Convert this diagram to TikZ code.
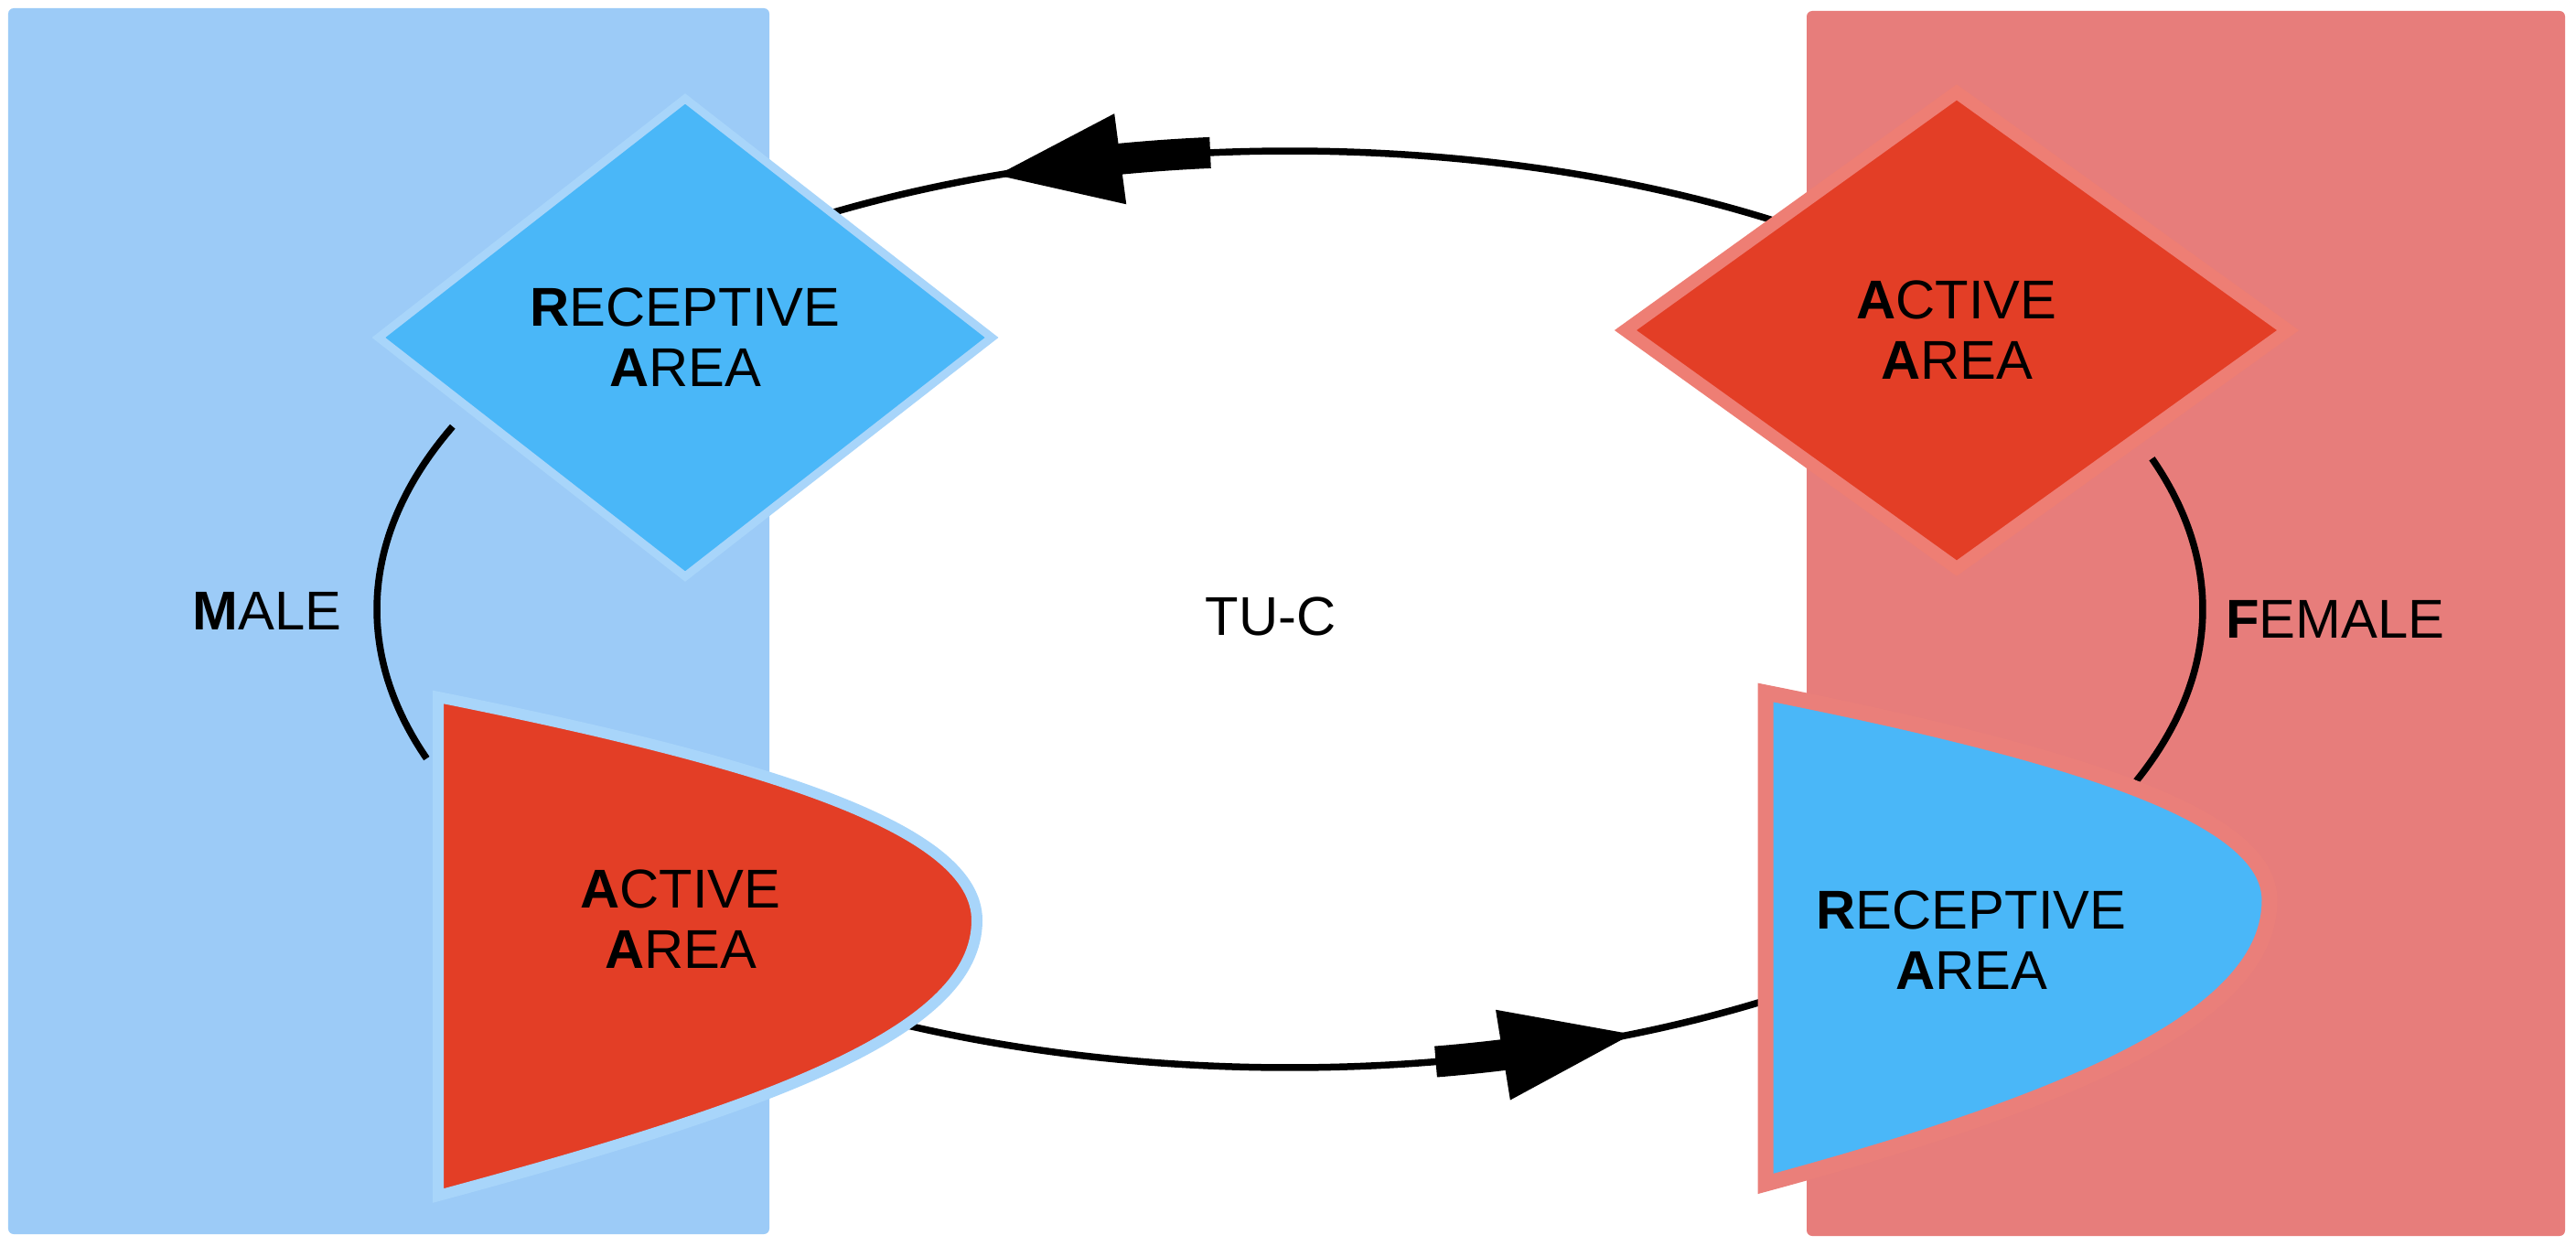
\documentclass[tikz,border=0pt]{standalone}
\usepackage{fontspec}
\setmainfont{Liberation Sans}
\usetikzlibrary{shapes.geometric,calc}
\definecolor{malebg}{HTML}{9CCBF7}
\definecolor{femalebg}{HTML}{E77D7B}
\definecolor{recblue}{HTML}{4AB7F8}
\definecolor{actred}{HTML}{E33E26}
\definecolor{bluerim}{HTML}{A8D5FA}
\definecolor{redrim}{HTML}{EE7E74}
\definecolor{salmonrim}{HTML}{EA7F7A}
\begin{document}
\begin{tikzpicture}[
  panel/.style={rectangle, draw=none, inner sep=0pt, rounded corners=0.06cm},
  lbl/.style={font=\fontsize{17}{18.8}\selectfont, text=black, align=center, inner sep=0pt},
  cyc/.style={line width=0.075cm, black},
  shaft/.style={line width=0.34cm, black},
  areabox/.style={diamond, inner sep=0pt, font=\fontsize{17}{18.8}\selectfont, text=black, align=center},
]
\useasboundingbox (0,0) rectangle (28.16,13.61);
\fill[white] (0,0) rectangle (28.16,13.61);

% panels
\node[panel, fill=malebg, minimum width=8.32cm, minimum height=13.40cm] (malepanel) at (4.25,6.82) {};
\node[panel, fill=femalebg, minimum width=8.29cm, minimum height=13.39cm] (femalepanel) at (23.895,6.795) {};

% cycle (one ellipse)
\coordinate (O) at (14.10,6.95);
\coordinate (topR) at ($(O)+(56:9.98cm and 5.01cm)$);
\coordinate (botL) at ($(O)+(243:9.98cm and 5.01cm)$);
\coordinate (maleT) at ($(O)+(156.5:9.98cm and 5.01cm)$);
\coordinate (femB) at ($(O)+(-22:9.98cm and 5.01cm)$);

\draw[cyc] (topR) arc[start angle=56, end angle=123, x radius=9.98, y radius=5.01];
\draw[cyc] (botL) arc[start angle=243, end angle=303, x radius=9.98, y radius=5.01];
\draw[cyc] (maleT) arc[start angle=156.5, end angle=199, x radius=9.98, y radius=5.01];
\draw[cyc] (femB) arc[start angle=-22, end angle=19.2, x radius=9.98, y radius=5.01];

% top arrow (pointing left)
\coordinate (tTip) at ($(O)+(108.7:9.98cm and 5.01cm)$);
\coordinate (tBack) at ($(O)+(100.7:9.98cm and 5.01cm)$);
\coordinate (tTail) at ($(O)+(95:9.98cm and 5.01cm)$);
\draw[shaft] (tTail) arc[start angle=95, end angle=101.5, x radius=9.98, y radius=5.01];
\fill[black] (tTip) -- ($(tBack)!0.5cm!90:(tTip)$) -- ($(tBack)!0.5cm!-90:(tTip)$) -- cycle;

% bottom arrow (pointing right)
\coordinate (bTip) at ($(O)+(292:9.98cm and 5.01cm)$);
\coordinate (bBack) at ($(O)+(283.5:9.98cm and 5.01cm)$);
\coordinate (bTail) at ($(O)+(279.2:9.98cm and 5.01cm)$);
\draw[shaft] (bTail) arc[start angle=279.2, end angle=284.3, x radius=9.98, y radius=5.01];
\fill[black] (bTip) -- ($(bBack)!0.5cm!90:(bTip)$) -- ($(bBack)!0.5cm!-90:(bTip)$) -- cycle;

% diamonds
\node[areabox, fill=recblue, draw=bluerim, line width=0.09cm,
      minimum width=6.74cm, minimum height=5.26cm] (maleRec) at (7.49,9.92)
      {\textbf{R}ECEPTIVE\\\textbf{A}REA};
\node[areabox, fill=actred, draw=redrim, line width=0.14cm,
      minimum width=7.30cm, minimum height=5.26cm] (femAct) at (21.39,10.00)
      {\textbf{A}CTIVE\\\textbf{A}REA};

% half-lens shapes
\coordinate (raTop) at (4.79,5.99);
\coordinate (raTip) at (10.68,3.55);
\coordinate (raBot) at (4.79,0.54);
\filldraw[fill=actred, draw=bluerim, line width=0.12cm]
  (raTop) .. controls (8.50,5.25) and (10.68,4.53) .. (raTip)
          .. controls (10.68,2.35) and (8.50,1.54) .. (raBot) -- cycle;
\node[lbl] (maleAct) at (7.44,3.565) {\textbf{A}CTIVE\\\textbf{A}REA};

\coordinate (rbTop) at (19.30,6.04);
\coordinate (rbTip) at (24.81,3.77);
\coordinate (rbBot) at (19.30,0.67);
\filldraw[fill=recblue, draw=salmonrim, line width=0.17cm]
  (rbTop) .. controls (22.77,5.35) and (24.81,4.68) .. (rbTip)
          .. controls (24.81,2.53) and (22.77,1.61) .. (rbBot) -- cycle;
\node[lbl] (femRec) at (21.55,3.33) {\textbf{R}ECEPTIVE\\\textbf{A}REA};

% labels
\node[lbl, anchor=base] (maleLbl) at (2.92,6.73) {\textbf{M}ALE};
\node[lbl, anchor=base] (femLbl) at (25.53,6.64) {\textbf{F}EMALE};
\node[lbl, anchor=base] (tuc) at (13.89,6.67) {TU-C};
\end{tikzpicture}
\end{document}
